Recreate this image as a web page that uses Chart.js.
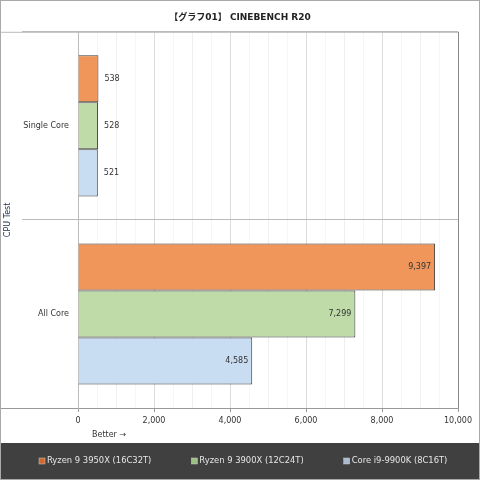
<!DOCTYPE html>
<html>
<head>
<meta charset="utf-8">
<script src="https://cdn.jsdelivr.net/npm/chart.js@4/dist/chart.umd.min.js"></script>
<style>
  html, body { margin: 0; padding: 0; background: #fff; }
  #wrap { width: 480px; height: 480px; }
</style>
</head>
<body>
<div id="wrap"><canvas id="chart" width="480" height="480"></canvas></div>
<script>
const categories = ['Single Core', 'All Core']
const seriesNames = ['Ryzen 9 3950X (16C32T)', 'Ryzen 9 3900X (12C24T)', 'Core i9-9900K (8C16T)']
const ryzen3950x = [538, 9397]
const ryzen3900x = [528, 7299]
const corei9900k = [521, 4585]
const titleText = '【グラフ01】 CINEBENCH R20'
const xTitle = 'Better →'
const yTitle = 'CPU Test'

const font = '"DejaVu Sans", "Noto Sans CJK JP", sans-serif'
const fills = ['#f1965a', '#bedba8', '#c9ddf2']
const legendFills = ['#d0682f', '#9cbf86', '#a9bccf']

const fmt = v => v.toLocaleString('en-US')

// frame lines, axis titles and the dark legend band
const frame = {
    id: 'frame',
    beforeDraw({ ctx, width, height }) {
        ctx.save()
        ctx.fillStyle = '#404040'
        ctx.fillRect(0, 443, width, height - 443)
        ctx.restore()
    },
    afterDraw(chart) {
        const { ctx, width, height, chartArea } = chart
        ctx.save()
        ctx.lineWidth = 1
        ctx.strokeStyle = '#bbb'
        ctx.beginPath()
        ctx.moveTo(0, chartArea.top + 0.5)
        ctx.lineTo(chartArea.right, chartArea.top + 0.5)
        ctx.stroke()
        ctx.strokeStyle = '#999'
        ctx.beginPath()
        ctx.moveTo(0, chartArea.bottom + 0.5)
        ctx.lineTo(chartArea.left, chartArea.bottom + 0.5)
        ctx.stroke()
        ctx.strokeStyle = '#aaa'
        ctx.strokeRect(0.5, 0.5, width - 1, height - 1)

        ctx.font = '8px ' + font
        ctx.fillStyle = '#333'
        ctx.textBaseline = 'middle'
        ctx.textAlign = 'left'
        ctx.fillText(xTitle, chartArea.left + 14, 435)

        // legend
        ctx.font = '8.4px ' + font
        const gap = 39
        const items = chart.data.datasets.map((ds, i) => ({
            text: ds.label,
            color: legendFills[i],
            w: 9 + ctx.measureText(ds.label).width,
        }))
        const total = items.reduce((s, it) => s + it.w, 0) + gap * (items.length - 1)
        let x = Math.round((width - total) / 2) + 4
        const y = 461
        items.forEach(it => {
            ctx.fillStyle = it.color
            ctx.fillRect(x, y - 3, 6, 6)
            ctx.strokeStyle = '#ccc'
            ctx.lineWidth = 0.5
            ctx.strokeRect(x, y - 3, 6, 6)
            ctx.fillStyle = '#e6e6e6'
            ctx.fillText(it.text, x + 8, y)
            x += it.w + gap
        })

        ctx.font = '8px ' + font
        ctx.translate(8, (chartArea.top + chartArea.bottom) / 2)
        ctx.rotate(-Math.PI / 2)
        ctx.textAlign = 'center'
        ctx.fillStyle = '#1b2a4a'
        ctx.fillText(yTitle, 0, 0)
        ctx.restore()
    }
}

const valueLabels = {
    id: 'valueLabels',
    afterDatasetsDraw(chart) {
        const { ctx } = chart
        ctx.save()
        ctx.font = '8px ' + font
        ctx.fillStyle = '#333'
        ctx.textBaseline = 'middle'
        chart.data.datasets.forEach((ds, i) => {
            chart.getDatasetMeta(i).data.forEach((bar, j) => {
                const v = ds.data[j]
                if (v > 2000) {
                    ctx.textAlign = 'right'
                    ctx.fillText(fmt(v), bar.x - 4, bar.y)
                } else {
                    ctx.textAlign = 'left'
                    ctx.fillText(fmt(v), bar.x + 6, bar.y)
                }
            })
        })
        ctx.restore()
    }
}

new Chart(document.getElementById('chart'), {
    type: 'bar',
    data: {
        labels: categories,
        datasets: [ryzen3950x, ryzen3900x, corei9900k].map((data, i) => ({
            label: seriesNames[i],
            data,
            backgroundColor: fills[i],
            borderColor: '#3a3a3a',
            borderWidth: 1,
            categoryPercentage: 0.75,
            barPercentage: 1.0,
        })),
    },
    options: {
        indexAxis: 'y',
        responsive: false,
        animation: false,
        layout: { padding: { left: 0, right: 0, top: 0, bottom: 37 } },
        scales: {
            x: {
                min: 0,
                max: 10000,
                ticks: {
                    stepSize: 500,
                    autoSkip: false,
                    maxRotation: 0,
                    color: '#333',
                    font: { family: font, size: 8 },
                    padding: 4,
                    callback: v => v % 2000 === 0 ? fmt(v) : '',
                },
                grid: {
                    color: ({ tick }) => {
                        if (!tick) return '#eee'
                        if (tick.value === 0) return '#bbb'
                        if (tick.value === 10000) return '#888'
                        if (tick.value % 2000 === 0) return '#dcdcdc'
                        if (tick.value % 1000 === 0) return '#efefef'
                        return '#f6f6f6'
                    },
                    tickColor: ({ tick }) => tick && tick.value % 2000 === 0 ? '#999' : 'rgba(0,0,0,0)',
                    tickLength: 4,
                },
                border: { color: '#999' },
                afterFit(scale) {
                    scale.height = 35
                    scale.paddingRight = 22
                },
            },
            y: {
                ticks: {
                    color: '#333',
                    font: { family: font, size: 8 },
                    padding: -47,
                },
                grid: {
                    color: '#bbb',
                    tickLength: 56,
                },
                border: { color: '#bbb' },
                afterFit(scale) {
                    scale.width = 78
                },
            },
        },
        plugins: {
            title: {
                display: true,
                text: titleText,
                color: '#222',
                font: { family: font, size: 9, weight: 'bold', lineHeight: 1.2 },
                padding: { top: 12, bottom: 9 },
            },
            legend: { display: false },
            tooltip: { enabled: false },
        },
    },
    plugins: [frame, valueLabels],
})
</script>
</body>
</html>
